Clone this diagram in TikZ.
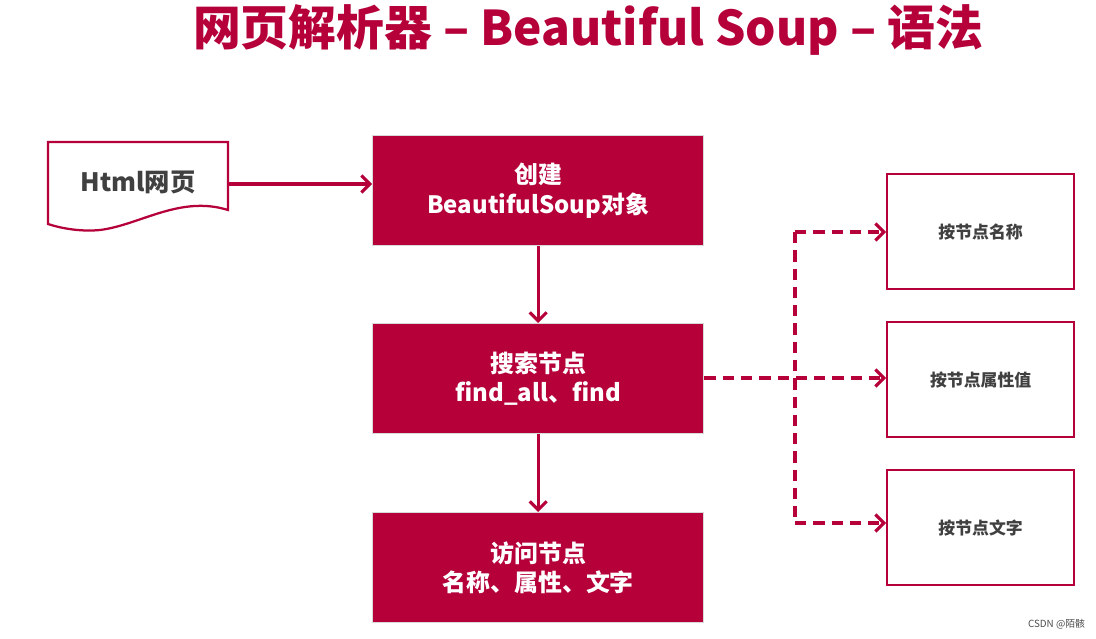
\documentclass[tikz,border=0pt]{standalone}
\usepackage{fontspec}
\setmainfont{Noto Sans CJK SC}
\usetikzlibrary{arrows.meta}
\definecolor{crim}{HTML}{B5003A}
\definecolor{txt}{HTML}{404040}
\begin{document}
\begin{tikzpicture}[x=0.025cm,y=-0.025cm,
  redbox/.style={fill=crim,draw=white!85!black,line width=1pt,minimum width=331*0.025cm,minimum height=110*0.025cm,text=white,font=\fontsize{17}{21}\selectfont\bfseries,align=center,anchor=north west},
  whitebox/.style={fill=white,draw=crim,line width=1.6pt,minimum width=187*0.025cm,minimum height=115*0.025cm,text=txt,font=\fontsize{12}{14}\selectfont\bfseries,anchor=north west},
  arr/.style={draw=crim,line width=2.2pt,-{Straight Barb[length=6pt,width=12pt]}},
  darr/.style={arr,dashed,dash pattern=on 8pt off 5pt}]
\useasboundingbox (0,0) rectangle (1096,638);
\node[text=crim,font=\fontsize{34}{40}\selectfont\bfseries] (title) at (588,30) {网页解析器 – Beautiful Soup – 语法};
% document
\draw[crim,line width=1.6pt,fill=white] (48,142) -- (228,142) -- (228,210) .. controls (180,195) and (140,225) .. (100,230) .. controls (80,232) and (60,228) .. (48,224) -- cycle;
\node[text=txt,font=\fontsize{18}{22}\selectfont\bfseries] (doc) at (138,182) {Html网页};
\coordinate (docr) at (228,184);
\node[redbox] (b1) at (372,135) {创建\\BeautifulSoup对象};
\node[redbox] (b2) at (372,323) {搜索节点\\find\_all、find};
\node[redbox] (b3) at (372,512) {访问节点\\名称、属性、文字};
\node[whitebox] (r1) at (886,173) {按节点名称};
\node[whitebox] (r2) at (886,321) {按节点属性值};
\node[whitebox] (r3) at (886,469) {按节点文字};
\draw[arr] (docr) -- (b1.west |- docr);
\draw[arr] (b1) -- (b2);
\draw[arr] (b2) -- (b3);
\coordinate (j1) at (795,232);
\coordinate (j3) at (795,523);
\draw[darr] (b2.east |- 0,378) -- (r2.west |- 0,378);
\draw[crim,line width=2.2pt,dash pattern=on 8pt off 5pt] (j1) -- (j3);
\draw[darr] (j1) -- (r1.west |- j1);
\draw[darr] (j3) -- (r3.west |- j3);
\node[text=black!70,font=\fontsize{7}{8}\selectfont,anchor=east] (wm) at (1090,624) {CSDN @陌骸};
\end{tikzpicture}
\end{document}
